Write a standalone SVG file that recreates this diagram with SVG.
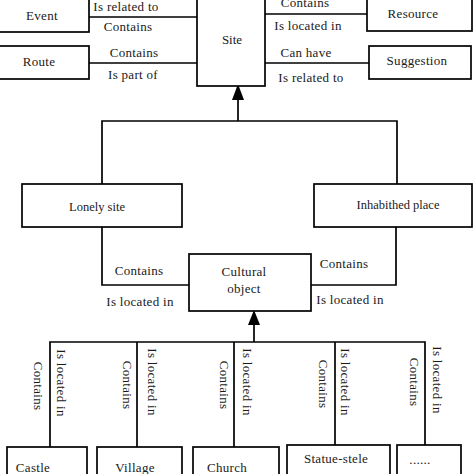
<svg xmlns="http://www.w3.org/2000/svg" width="474" height="474" viewBox="0 0 474 474">
<style>
text{font-family:"Liberation Serif","Times New Roman","DejaVu Serif",serif;fill:#1a1a1a;text-anchor:middle}
.box{fill:#fff;stroke:#000;stroke-width:1.7}
.ln{fill:none;stroke:#000;stroke-width:1.7}
.t{font-size:13px}
.r{font-size:13px;letter-spacing:0.3px}
.s{font-size:12.5px}
.ah{fill:#000}
</style>
<rect width="474" height="474" fill="#fff"/>
<g id="connectors">
  <path class="ln" d="M89,17 H197 M89,63 H197 M265,14 H367 M265,63 H369"/>
  <path class="ln" d="M102,184 V121 H397 V184 M238,121 V98"/>
  <polygon class="ah" points="238,84 232,100 244,100"/>
  <path class="ln" d="M102,227 V285 H189 M396,227 V285 H311"/>
  <path class="ln" d="M254,342 V322"/>
  <polygon class="ah" points="254,310 248,325 260,325"/>
  <path class="ln" d="M50,447 V342 H425 V445 M137,342 V447 M234,342 V447 M335,342 V445"/>
  <text class="r" x="126" y="11">Is related to</text>
  <text class="r" x="128" y="31">Contains</text>
  <text class="r" x="134" y="57">Contains</text>
  <text class="r" x="133" y="79">Is part of</text>
  <text class="r" x="305" y="7">Contains</text>
  <text class="r" x="308" y="30">Is located in</text>
  <text class="r" x="306" y="57">Can have</text>
  <text class="r" x="311" y="82">Is related to</text>
  <text class="r" x="139" y="275">Contains</text>
  <text class="r" x="140" y="306">Is located in</text>
  <text class="r" x="344" y="268">Contains</text>
  <text class="r" x="350" y="304">Is located in</text>
  <text class="r" transform="translate(34,386) rotate(90)">Contains</text>
  <text class="r" transform="translate(57,383) rotate(90)">Is located in</text>
  <text class="r" transform="translate(123,385) rotate(90)">Contains</text>
  <text class="r" transform="translate(148,382) rotate(90)">Is located in</text>
  <text class="r" transform="translate(220,385) rotate(90)">Contains</text>
  <text class="r" transform="translate(243,382) rotate(90)">Is located in</text>
  <text class="r" transform="translate(319,384) rotate(90)">Contains</text>
  <text class="r" transform="translate(341,382) rotate(90)">Is located in</text>
  <text class="r" transform="translate(410,382) rotate(90)">Contains</text>
  <text class="r" transform="translate(433,380) rotate(90)">Is located in</text>
</g>
<g id="site"><rect class="box" x="197" y="-5" width="68" height="91"/><text class="t" x="232" y="44">Site</text></g>
<g id="event"><rect class="box" x="-5" y="-5" width="94" height="37"/><text class="r" x="42" y="20">Event</text></g>
<g id="route"><rect class="box" x="-5" y="46" width="94" height="33"/><text class="r" x="39" y="66">Route</text></g>
<g id="resource"><rect class="box" x="367" y="-5" width="105" height="36"/><text class="r" x="413" y="18">Resource</text></g>
<g id="suggestion"><rect class="box" x="369" y="46" width="102" height="33"/><text class="r" x="417" y="65">Suggestion</text></g>
<g id="lonely-site"><rect class="box" x="22" y="184" width="160" height="43"/><text class="s" x="97" y="211">Lonely site</text></g>
<g id="inhabited-place"><rect class="box" x="314" y="184" width="158" height="43"/><text class="s" x="398" y="209">Inhabithed place</text></g>
<g id="cultural-object"><rect class="box" x="189" y="254" width="122" height="57"/><text class="r" x="244" y="276">Cultural</text><text class="r" x="244" y="293">object</text></g>
<g id="castle"><rect class="box" x="7" y="447" width="80" height="35"/><text class="r" x="33" y="472">Castle</text></g>
<g id="village"><rect class="box" x="97" y="447" width="85" height="35"/><text class="r" x="135" y="472">Village</text></g>
<g id="church"><rect class="box" x="193" y="447" width="86" height="35"/><text class="r" x="227" y="472">Church</text></g>
<g id="statue-stele"><rect class="box" x="287" y="445" width="103" height="37"/><text class="r" x="336" y="463">Statue-stele</text></g>
<g id="more"><rect class="box" x="397" y="445" width="64" height="37"/><text class="r" x="420" y="464">......</text></g>
</svg>
